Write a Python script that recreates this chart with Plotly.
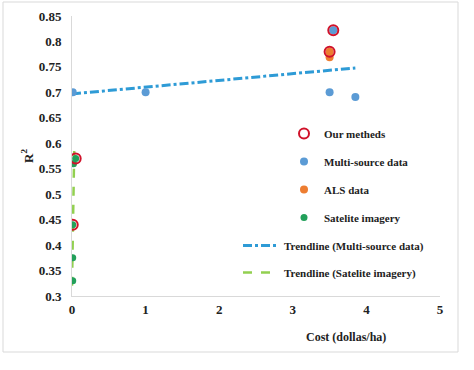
import plotly.graph_objects as go

# Data
ours_x = [3.55, 3.5, 0.05, 0.01]
ours_y = [0.822, 0.78, 0.57, 0.44]

multi_x = [0.01, 1.0, 3.55, 3.5, 3.85]
multi_y = [0.70, 0.70, 0.822, 0.70, 0.691]

als_x = [3.5, 3.5]
als_y = [0.78, 0.769]

sat_x = [0.02, 0.05, 0.01, 0.01, 0.01]
sat_y = [0.56, 0.57, 0.44, 0.375, 0.33]

trend_multi_x = [0.0, 3.85]
trend_multi_y = [0.697, 0.748]

trend_sat_x = [0.0, 0.03]
trend_sat_y = [0.32, 0.585]

FONT = "Liberation Serif"
W, H = 474, 370
L, R, T, B = 72, 34, 16, 74
PW, PH = W - L - R, H - T - B

def px_x(p):
    return (p - L) / PW

def px_y(p):
    return (H - B - p) / PH

fig = go.Figure()

fig.add_trace(go.Scatter(
    x=trend_multi_x, y=trend_multi_y, mode="lines",
    name="<b>Trendline (Multi-source data)</b>",
    line=dict(color="#2E9BD6", width=3, dash="dashdot"),
    legend="legend2", legendgroup="t1", legendrank=5))
fig.add_trace(go.Scatter(
    x=trend_sat_x, y=trend_sat_y, mode="lines",
    name="<b>Trendline (Satelite imagery)</b>",
    line=dict(color="#92D050", width=2.5, dash="dash"),
    legend="legend2", legendgroup="t2", legendrank=6))

fig.add_trace(go.Scatter(
    x=multi_x, y=multi_y, mode="markers", name="<b>Multi-source data</b>",
    marker=dict(color="#5B9BD5", size=8),
    legendgroup="g2", legendrank=2))
fig.add_trace(go.Scatter(
    x=als_x, y=als_y, mode="markers", name="<b>ALS data</b>",
    marker=dict(color="#ED7D31", size=8),
    legendgroup="g3", legendrank=3))
fig.add_trace(go.Scatter(
    x=sat_x, y=sat_y, mode="markers", name="<b>Satelite imagery</b>",
    marker=dict(color="#22A05A", size=7),
    legendgroup="g4", legendrank=4))
fig.add_trace(go.Scatter(
    x=ours_x, y=ours_y, mode="markers", name="<b>Our metheds</b>",
    marker=dict(symbol="circle-open", color="#D0122A", size=10,
                line=dict(width=2, color="#D0122A")),
    legendgroup="g1", legendrank=1))

axis_common = dict(showgrid=False, zeroline=False, showline=True,
                   linecolor="#D9D9D9", linewidth=1, ticks="",
                   automargin=False,
                   tickfont=dict(family=FONT, size=13, color="#222",
                                 weight="bold"))

fig.update_layout(
    width=W, height=H,
    margin=dict(l=L, r=R, t=T, b=B, autoexpand=False),
    paper_bgcolor="white", plot_bgcolor="white",
    font=dict(family=FONT, color="#222"),
    xaxis=dict(range=[0, 5], dtick=1, tick0=0, ticklabelstandoff=1,
               **axis_common),
    yaxis=dict(range=[0.3, 0.85], dtick=0.05, tick0=0.3, ticklabelstandoff=7,
               title=dict(text="<b>R<sup>2</sup></b>",
                          font=dict(family=FONT, size=13), standoff=2),
               **axis_common),
    legend=dict(x=px_x(284), y=px_y(119), xanchor="left", yanchor="top",
                bgcolor="rgba(0,0,0,0)", tracegroupgap=9,
                font=dict(family=FONT, size=11, color="#222")),
    legend2=dict(x=px_x(238), y=px_y(231), xanchor="left", yanchor="top",
                 bgcolor="rgba(0,0,0,0)", tracegroupgap=8, itemwidth=36,
                 font=dict(family=FONT, size=11, color="#222")),
    annotations=[dict(text="<b>Cost (dollas/ha)</b>", xref="paper", yref="paper",
                      x=px_x(346), y=px_y(337), xanchor="center", yanchor="middle",
                      showarrow=False,
                      font=dict(family=FONT, size=12, color="#222"))],
    shapes=[dict(type="rect", xref="paper", yref="paper",
                 x0=px_x(3), x1=px_x(458), y0=px_y(352), y1=px_y(2),
                 line=dict(color="#D9D9D9", width=1))],
)

fig.write_html("out.html", config={"displayModeBar": False},
               post_script="document.body.style.margin='0';document.body.style.padding='0';")
